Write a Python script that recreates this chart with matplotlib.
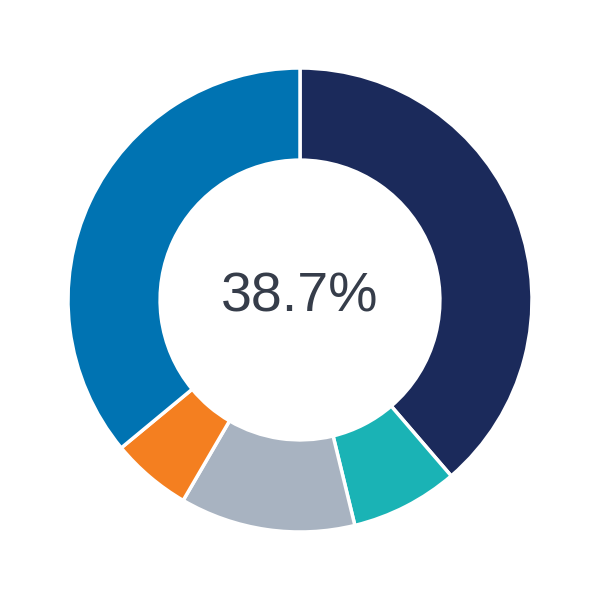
import matplotlib.pyplot as plt

labels = ["Navy", "Teal", "Gray", "Orange", "Blue"]
shares = [38.7, 7.5, 12.2, 5.6, 36.0]
colors = ["#1b2a5b", "#1ab3b5", "#a8b3c1", "#f47f20", "#0073b2"]
center_label = "38.7%"

fig = plt.figure(figsize=(6, 6), dpi=100)
ax = fig.add_axes([0, 0, 1, 1])

ax.pie(
    shares,
    colors=colors,
    startangle=90,
    counterclock=False,
    radius=1.0,
    wedgeprops=dict(width=0.397, edgecolor="white", linewidth=2.5),
)

ax.text(0, 0.01, center_label, ha="center", va="center",
        fontsize=40, color="#363d4a", family="Liberation Sans")

lim = 300 / 232
ax.set_xlim(-lim, lim)
ax.set_ylim(-lim, lim)
ax.set_aspect("equal")
ax.axis("off")

fig.savefig("out.png", dpi=100, facecolor="white")
